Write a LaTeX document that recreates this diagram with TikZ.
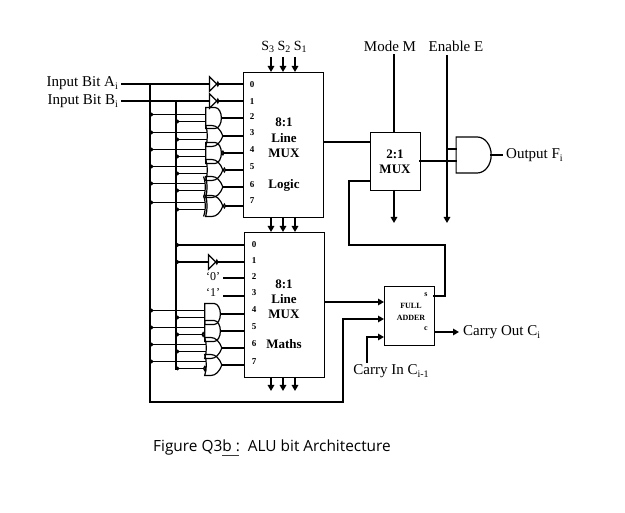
\documentclass[tikz,border=0pt]{standalone}
\usepackage{fontspec}
\setmainfont{Liberation Serif}
\newfontfamily\capfont{Open Sans}
\usetikzlibrary{shapes.gates.logic.US,arrows.meta,calc}
\newcommand\subtxt[1]{\raisebox{-.2em}{\fontsize{10}{10}\selectfont #1}}
\tikzset{
  wire/.style={line width=1.5pt,line cap=rect},
  tapwire/.style={line width=1.5pt,{Circle[length=3.4pt,width=3.4pt]}-},
  arrowwire/.style={line width=1.5pt,-{Triangle[length=6pt,width=6.5pt]}},
  gate/.style={draw,line width=1.2pt,inner sep=0pt,outer sep=0pt,minimum height=13.5pt,minimum width=1pt,logic gate input sep=7pt,logic gate inverted radius=1.9pt,transform shape,xscale=.6},
  notg/.style={gate,not gate US,minimum height=12pt,minimum width=1pt,logic gate input sep=3pt,xscale=.8},
  muxbox/.style={draw,line width=.9pt,inner sep=0pt,outer sep=0pt},
  txt/.style={inner sep=0pt,font=\fontsize{15}{17}\selectfont},
  seltxt/.style={inner sep=0pt,font=\fontsize{14}{16}\selectfont},
  btxt/.style={inner sep=0pt,font=\fontsize{13}{15}\bfseries\selectfont},
  ftxt/.style={inner sep=0pt,font=\fontsize{8}{10}\bfseries\selectfont},
  ntxt/.style={inner sep=0pt,font=\fontsize{9}{10}\bfseries\selectfont},
  qtxt/.style={inner sep=0pt,font=\fontsize{12}{14}\selectfont},
}
\begin{document}
\begin{tikzpicture}[x=1pt,y=-1pt]
\useasboundingbox (0,0) rectangle (625,513);
% boxes
\node[muxbox,minimum width=80pt,minimum height=145pt] (mA) at (283.5,144.5) {};
\node[muxbox,minimum width=80pt,minimum height=145pt] (mB) at (284,304.5) {};
\node[muxbox,minimum width=50pt,minimum height=58pt] (mC) at (395,161) {};
\node[muxbox,minimum width=50pt,minimum height=59pt] (fa) at (409,315.5) {};
% box texts
\node[btxt] (t1) at (284,122) {8:1};
\node[btxt] (t2) at (284,138) {Line};
\node[btxt] (t3) at (284,153) {MUX};
\node[btxt] (t4) at (284,185) {Logic};
\node[btxt] (t5) at (284,284) {8:1};
\node[btxt] (t6) at (284,299) {Line};
\node[btxt] (t7) at (284,314) {MUX};
\node[btxt] (t8) at (284,344) {Maths};
\node[btxt] (t9) at (395,154) {2:1};
\node[btxt] (t10) at (395,169) {MUX};
\node[ftxt] (t11) at (411,306) {FULL};
\node[ftxt] (t12) at (411,318) {ADDER};
\node[ftxt] (ts) at (426,295) {s};
\node[ftxt] (tc) at (426,329) {c};
% pin numbers
\foreach \n/\y in {0/85,1/102,2/117,3/133,4/150,5/167,6/185,7/201}
  \node[ntxt] (pa\n) at (252,\y) {\n};
\foreach \n/\y in {0/245,1/261,2/277,3/293,4/310,5/327,6/344,7/362}
  \node[ntxt] (pb\n) at (254,\y) {\n};
% input labels
\node[txt,anchor=base east,inner xsep=4pt] (inA) at (122,87) {Input Bit A\subtxt{i}};
\node[txt,anchor=base east,inner xsep=4pt] (inB) at (122,105) {Input Bit B\subtxt{i}};
% buses
\coordinate (Abus) at (150,84);
\coordinate (Bbus) at (176,101);
\coordinate (Abot) at (150,402);
\coordinate (Bbot) at (176,369);
\coordinate (Aturn) at (343,402);
\coordinate (Aend) at (384,319);
\draw[wire] (Abus) -- (Abot) -- (Aturn) -- (Aturn |- Aend);
\draw[arrowwire] (Aturn |- Aend) -- (Aend);
\draw[wire] (Bbus) -- (Bbot);
% logic gates
\node[notg] (g0) at (212,84) {};
\node[notg] (g1) at (212,101) {};
\node[gate,and gate US] (g2) at (213,118) {};
\node[gate,or gate US] (g3) at (213,136) {};
\node[gate,nand gate US] (g4) at (213,153) {};
\node[gate,nor gate US] (g5) at (213,170) {};
\node[gate,xor gate US] (g6) at (213,187) {};
\node[gate,xnor gate US] (g7) at (213,206) {};
\draw[wire] (inA.east |- g0.input) -- (g0.input);
\draw[wire] (inB.east |- g1.input) -- (g1.input);
\foreach \g in {g0,g1,g2,g3,g4,g5,g6,g7}
  \draw[wire] (\g.output) -- (mA.west |- \g.output);
\foreach \g in {g2,g3,g4,g5,g6,g7}{
  \draw[tapwire] (Abus |- \g.input 1) -- (\g.input 1);
  \draw[tapwire] (Bbus |- \g.input 2) -- (\g.input 2);
}
% maths gates
\node[notg] (h1) at (211,262) {};
\node[gate,and gate US] (h4) at (212,314) {};
\node[gate,and gate US,logic gate inputs=ni] (h5) at (212,331) {};
\node[gate,or gate US] (h6) at (212,348) {};
\node[gate,or gate US,logic gate inputs=ni] (h7) at (212,365) {};
\coordinate (b0) at (176,245);
\draw[tapwire] (b0) -- (mB.west |- b0);
\draw[tapwire] (Bbus |- h1.input) -- (h1.input);
\foreach \g in {h1,h4,h5,h6,h7}
  \draw[wire] (\g.output) -- (mB.west |- \g.output);
\foreach \g in {h4,h5,h6,h7}{
  \draw[tapwire] (Abus |- \g.input 1) -- (\g.input 1);
  \draw[tapwire] (Bbus |- \g.input 2) -- (\g.input 2);
}
% constants
\node[qtxt] (q0) at (213,277) {‘0’};
\node[qtxt] (q1) at (213,293) {‘1’};
\coordinate (c0) at (224,278);
\coordinate (c1) at (224,296);
\draw[wire] (c0) -- (mB.west |- c0);
\draw[wire] (c1) -- (mB.west |- c1);
% select labels and arrows
\node[seltxt] (sel) at (284,47) {S\subtxt{3} S\subtxt{2} S\subtxt{1}};
\foreach \x in {271,283,295}{
  \coordinate (st\x) at (\x,57);
  \draw[arrowwire] (st\x) -- (st\x |- mA.north);
  \draw[arrowwire] (st\x |- mA.south) -- (st\x |- mB.north);
  \coordinate (sb\x) at (\x,391);
  \draw[arrowwire] (sb\x |- mB.south) -- (sb\x);
}
% right part
\node[txt] (mode) at (390,46) {Mode M};
\node[txt] (en) at (456,46) {Enable E};
\coordinate (modeT) at (394,55);
\coordinate (modeE) at (394,223);
\coordinate (enT) at (447,55);
\coordinate (enE) at (447,223);
\draw[wire] (modeT) -- (modeT |- mC.north);
\draw[arrowwire] (modeT |- mC.south) -- (modeE);
\draw[arrowwire] (enT) -- (enE);
\node[gate,and gate US,minimum height=15pt,logic gate input sep=12pt,xscale=1.3] (oa) at (472.5,155) {};
\draw[wire] (enT |- oa.input 1) -- (oa.input 1);
\draw[wire] (mC.east |- oa.input 2) -- (oa.input 2);
\node[txt,anchor=west,inner xsep=4pt] (outF) at (502,155) {Output F\subtxt{i}};
\draw[wire] (oa.output) -- (outF.west);
% connections around adder
\coordinate (m1) at (370,142);
\draw[wire] (mA.east |- m1) -- (m1);
\coordinate (m2) at (370,181);
\coordinate (r1) at (349,245);
\coordinate (r2) at (445,296);
\draw[wire] (m2) -- (r1 |- m2) -- (r1) -- (r2 |- r1) -- (r2) -- (fa.east |- r2);
\coordinate (f1) at (384,302);
\draw[arrowwire] (mB.east |- f1) -- (f1);
\node[txt] (cin) at (391,371.5) {Carry In C\subtxt{i-1}};
\coordinate (f3) at (384,337);
\coordinate (f3s) at (367,362);
\draw[wire] (f3s) -- (f3s |- f3);
\draw[arrowwire] (f3s |- f3) -- (f3);
\node[txt,anchor=west,inner xsep=4pt] (cout) at (459,332) {Carry Out C\subtxt{i}};
\draw[arrowwire] (fa.east |- cout) -- (cout.west);
% caption
\node[inner sep=0pt,anchor=base west,font=\fontsize{15.4}{17}\capfont\selectfont] (cap) at (153,452) {Figure Q3b :\ \ ALU bit Architecture};
\coordinate (u1) at (222,455.5);
\coordinate (u2) at (239,455.5);
\draw[color=blue!80!cyan,line width=1pt] (u1) -- (u2);
\end{tikzpicture}
\end{document}
